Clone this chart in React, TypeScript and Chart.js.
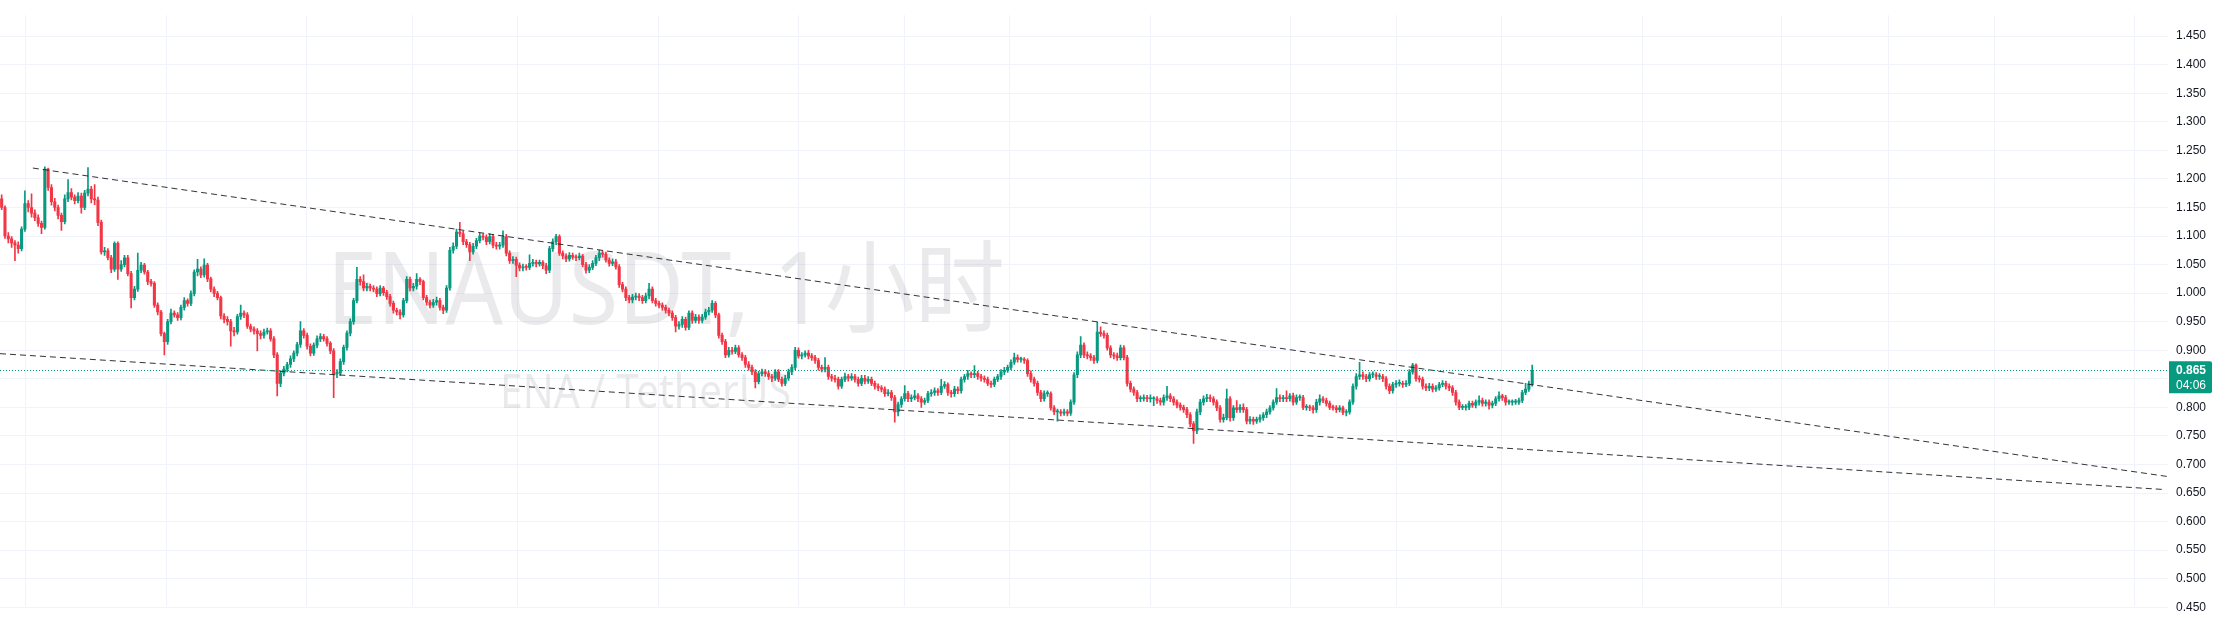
import React, { useEffect, useRef } from 'react';
import { Chart, registerables } from 'chart.js';

Chart.register(...registerables);

// ---- Data (ENAUSDT 1h candles) ----
const closes = [
  1.150, 1.100, 1.095, 1.088, 1.084, 1.078, 1.112, 1.157, 1.150, 1.140,
  1.132, 1.122, 1.115, 1.217, 1.185, 1.160, 1.150, 1.136, 1.125, 1.165,
  1.176, 1.168, 1.162, 1.170, 1.150, 1.175, 1.182, 1.165, 1.163, 1.124,
  1.072, 1.074, 1.062, 1.042, 1.087, 1.042, 1.050, 1.062, 1.034, 0.992,
  1.007, 1.040, 1.049, 1.037, 1.020, 1.017, 0.979, 0.967, 0.929, 0.915,
  0.950, 0.965, 0.962, 0.957, 0.975, 0.987, 0.982, 0.999, 1.037, 1.042,
  1.032, 1.049, 1.025, 1.007, 0.999, 0.992, 0.960, 0.954, 0.950, 0.934,
  0.932, 0.959, 0.965, 0.962, 0.942, 0.937, 0.934, 0.929, 0.926, 0.932,
  0.934, 0.920, 0.892, 0.842, 0.860, 0.867, 0.875, 0.885, 0.895, 0.910,
  0.934, 0.926, 0.907, 0.895, 0.909, 0.920, 0.924, 0.920, 0.912, 0.899,
  0.859, 0.860, 0.880, 0.905, 0.930, 0.950, 0.987, 1.024, 1.020, 1.009,
  1.012, 1.009, 1.007, 0.999, 1.009, 1.001, 0.994, 0.982, 0.970, 0.967,
  0.962, 0.987, 1.024, 1.009, 1.012, 1.024, 1.020, 0.992, 0.984, 0.979,
  0.984, 0.987, 0.975, 0.970, 1.009, 1.075, 1.082, 1.107, 1.104, 1.090,
  1.085, 1.072, 1.082, 1.092, 1.100, 1.098, 1.090, 1.099, 1.084, 1.082,
  1.084, 1.099, 1.070, 1.057, 1.059, 1.049, 1.044, 1.046, 1.045, 1.052,
  1.054, 1.051, 1.054, 1.048, 1.040, 1.078, 1.090, 1.099, 1.070, 1.065,
  1.060, 1.066, 1.063, 1.062, 1.065, 1.050, 1.040, 1.045, 1.052, 1.062,
  1.070, 1.068, 1.058, 1.052, 1.055, 1.046, 1.015, 1.007, 0.992, 0.988,
  0.993, 0.995, 0.992, 0.987, 0.995, 1.007, 0.987, 0.982, 0.979, 0.975,
  0.970, 0.965, 0.957, 0.942, 0.945, 0.954, 0.940, 0.965, 0.952, 0.958,
  0.952, 0.958, 0.967, 0.970, 0.982, 0.962, 0.926, 0.915, 0.892, 0.900,
  0.898, 0.904, 0.892, 0.887, 0.875, 0.870, 0.862, 0.845, 0.859, 0.862,
  0.859, 0.854, 0.851, 0.862, 0.849, 0.842, 0.851, 0.862, 0.870, 0.900,
  0.890, 0.892, 0.895, 0.890, 0.887, 0.882, 0.870, 0.867, 0.870, 0.854,
  0.851, 0.849, 0.837, 0.849, 0.854, 0.851, 0.854, 0.849, 0.842, 0.851,
  0.846, 0.849, 0.842, 0.837, 0.834, 0.832, 0.824, 0.826, 0.817, 0.792,
  0.805, 0.815, 0.824, 0.815, 0.817, 0.820, 0.815, 0.809, 0.812, 0.824,
  0.826, 0.829, 0.826, 0.837, 0.840, 0.826, 0.824, 0.832, 0.829, 0.849,
  0.854, 0.859, 0.857, 0.859, 0.854, 0.851, 0.849, 0.842, 0.840, 0.849,
  0.854, 0.862, 0.865, 0.870, 0.879, 0.887, 0.884, 0.884, 0.882, 0.859,
  0.849, 0.842, 0.826, 0.815, 0.824, 0.824, 0.799, 0.792, 0.792, 0.790,
  0.792, 0.790, 0.809, 0.857, 0.892, 0.909, 0.892, 0.890, 0.887, 0.882,
  0.932, 0.929, 0.926, 0.904, 0.892, 0.890, 0.887, 0.904, 0.887, 0.842,
  0.832, 0.826, 0.815, 0.815, 0.817, 0.815, 0.815, 0.815, 0.812, 0.809,
  0.817, 0.820, 0.815, 0.809, 0.804, 0.800, 0.796, 0.787, 0.771, 0.759,
  0.792, 0.809, 0.815, 0.817, 0.815, 0.809, 0.799, 0.779, 0.782, 0.815,
  0.782, 0.799, 0.796, 0.800, 0.796, 0.776, 0.779, 0.776, 0.779, 0.782,
  0.787, 0.792, 0.799, 0.809, 0.817, 0.815, 0.817, 0.815, 0.820, 0.809,
  0.817, 0.817, 0.800, 0.800, 0.799, 0.796, 0.809, 0.815, 0.812, 0.807,
  0.800, 0.799, 0.796, 0.799, 0.791, 0.792, 0.809, 0.837, 0.854, 0.857,
  0.854, 0.850, 0.857, 0.857, 0.854, 0.854, 0.850, 0.837, 0.829, 0.840,
  0.842, 0.842, 0.840, 0.842, 0.862, 0.874, 0.850, 0.849, 0.837, 0.834,
  0.837, 0.832, 0.834, 0.840, 0.842, 0.837, 0.834, 0.826, 0.809, 0.800,
  0.800, 0.800, 0.807, 0.804, 0.809, 0.812, 0.807, 0.809, 0.804, 0.807,
  0.815, 0.820, 0.817, 0.809, 0.809, 0.809, 0.809, 0.812, 0.826, 0.832,
  0.840, 0.865,
];

const opens = [
  1.165, 1.150, 1.100, 1.095, 1.088, 1.084, 1.078, 1.112, 1.157, 1.150,
  1.140, 1.132, 1.122, 1.115, 1.217, 1.185, 1.160, 1.150, 1.136, 1.125,
  1.165, 1.176, 1.168, 1.162, 1.170, 1.150, 1.175, 1.182, 1.165, 1.163,
  1.124, 1.072, 1.074, 1.062, 1.042, 1.087, 1.042, 1.050, 1.062, 1.034,
  0.992, 1.007, 1.040, 1.049, 1.037, 1.020, 1.017, 0.979, 0.967, 0.929,
  0.915, 0.950, 0.965, 0.962, 0.957, 0.975, 0.987, 0.982, 0.999, 1.037,
  1.042, 1.032, 1.049, 1.025, 1.007, 0.999, 0.992, 0.960, 0.954, 0.950,
  0.934, 0.932, 0.959, 0.965, 0.962, 0.942, 0.937, 0.934, 0.929, 0.926,
  0.932, 0.934, 0.920, 0.892, 0.842, 0.860, 0.867, 0.875, 0.885, 0.895,
  0.910, 0.934, 0.926, 0.907, 0.895, 0.909, 0.920, 0.924, 0.920, 0.912,
  0.899, 0.859, 0.860, 0.880, 0.905, 0.930, 0.950, 0.987, 1.024, 1.020,
  1.009, 1.012, 1.009, 1.007, 0.999, 1.009, 1.001, 0.994, 0.982, 0.970,
  0.967, 0.962, 0.987, 1.024, 1.009, 1.012, 1.024, 1.020, 0.992, 0.984,
  0.979, 0.984, 0.987, 0.975, 0.970, 1.009, 1.075, 1.082, 1.107, 1.104,
  1.090, 1.085, 1.072, 1.082, 1.092, 1.100, 1.098, 1.090, 1.099, 1.084,
  1.082, 1.084, 1.099, 1.070, 1.057, 1.059, 1.049, 1.044, 1.046, 1.045,
  1.052, 1.054, 1.051, 1.054, 1.048, 1.040, 1.078, 1.090, 1.099, 1.070,
  1.065, 1.060, 1.066, 1.063, 1.062, 1.065, 1.050, 1.040, 1.045, 1.052,
  1.062, 1.070, 1.068, 1.058, 1.052, 1.055, 1.046, 1.015, 1.007, 0.992,
  0.988, 0.993, 0.995, 0.992, 0.987, 0.995, 1.007, 0.987, 0.982, 0.979,
  0.975, 0.970, 0.965, 0.957, 0.942, 0.945, 0.954, 0.940, 0.965, 0.952,
  0.958, 0.952, 0.958, 0.967, 0.970, 0.982, 0.962, 0.926, 0.915, 0.892,
  0.900, 0.898, 0.904, 0.892, 0.887, 0.875, 0.870, 0.862, 0.845, 0.859,
  0.862, 0.859, 0.854, 0.851, 0.862, 0.849, 0.842, 0.851, 0.862, 0.870,
  0.900, 0.890, 0.892, 0.895, 0.890, 0.887, 0.882, 0.870, 0.867, 0.870,
  0.854, 0.851, 0.849, 0.837, 0.849, 0.854, 0.851, 0.854, 0.849, 0.842,
  0.851, 0.846, 0.849, 0.842, 0.837, 0.834, 0.832, 0.824, 0.826, 0.817,
  0.792, 0.805, 0.815, 0.824, 0.815, 0.817, 0.820, 0.815, 0.809, 0.812,
  0.824, 0.826, 0.829, 0.826, 0.837, 0.840, 0.826, 0.824, 0.832, 0.829,
  0.849, 0.854, 0.859, 0.857, 0.859, 0.854, 0.851, 0.849, 0.842, 0.840,
  0.849, 0.854, 0.862, 0.865, 0.870, 0.879, 0.887, 0.884, 0.884, 0.882,
  0.859, 0.849, 0.842, 0.826, 0.815, 0.824, 0.824, 0.799, 0.792, 0.792,
  0.790, 0.792, 0.790, 0.809, 0.857, 0.892, 0.909, 0.892, 0.890, 0.887,
  0.882, 0.932, 0.929, 0.926, 0.904, 0.892, 0.890, 0.887, 0.904, 0.887,
  0.842, 0.832, 0.826, 0.815, 0.815, 0.817, 0.815, 0.815, 0.815, 0.812,
  0.809, 0.817, 0.820, 0.815, 0.809, 0.804, 0.800, 0.796, 0.787, 0.771,
  0.759, 0.792, 0.809, 0.815, 0.817, 0.815, 0.809, 0.799, 0.779, 0.782,
  0.815, 0.782, 0.799, 0.796, 0.800, 0.796, 0.776, 0.779, 0.776, 0.779,
  0.782, 0.787, 0.792, 0.799, 0.809, 0.817, 0.815, 0.817, 0.815, 0.820,
  0.809, 0.817, 0.817, 0.800, 0.800, 0.799, 0.796, 0.809, 0.815, 0.812,
  0.807, 0.800, 0.799, 0.796, 0.799, 0.791, 0.792, 0.809, 0.837, 0.854,
  0.857, 0.854, 0.850, 0.857, 0.857, 0.854, 0.854, 0.850, 0.837, 0.829,
  0.840, 0.842, 0.842, 0.840, 0.842, 0.862, 0.874, 0.850, 0.849, 0.837,
  0.834, 0.837, 0.832, 0.834, 0.840, 0.842, 0.837, 0.834, 0.826, 0.809,
  0.800, 0.800, 0.800, 0.807, 0.804, 0.809, 0.812, 0.807, 0.809, 0.804,
  0.807, 0.815, 0.820, 0.817, 0.809, 0.809, 0.809, 0.809, 0.812, 0.826,
  0.832, 0.840,
];

const highs = [
  1.172, 1.153, 1.106, 1.099, 1.092, 1.090, 1.116, 1.179, 1.162, 1.174,
  1.146, 1.137, 1.126, 1.221, 1.219, 1.190, 1.166, 1.154, 1.140, 1.172,
  1.199, 1.183, 1.172, 1.176, 1.175, 1.180, 1.220, 1.187, 1.190, 1.168,
  1.128, 1.080, 1.078, 1.066, 1.090, 1.090, 1.057, 1.066, 1.066, 1.038,
  1.012, 1.070, 1.054, 1.052, 1.040, 1.024, 1.020, 0.983, 0.970, 0.932,
  0.954, 0.972, 0.969, 0.966, 0.979, 0.992, 0.990, 1.004, 1.041, 1.059,
  1.046, 1.060, 1.052, 1.028, 1.011, 1.003, 0.995, 0.964, 0.959, 0.954,
  0.940, 0.963, 0.979, 0.969, 0.966, 0.946, 0.941, 0.938, 0.934, 0.937,
  0.939, 0.938, 0.924, 0.896, 0.864, 0.872, 0.879, 0.890, 0.899, 0.914,
  0.950, 0.938, 0.930, 0.911, 0.913, 0.925, 0.929, 0.928, 0.924, 0.915,
  0.903, 0.866, 0.885, 0.909, 0.934, 0.955, 0.991, 1.045, 1.029, 1.032,
  1.017, 1.016, 1.013, 1.011, 1.013, 1.012, 1.005, 0.998, 0.986, 0.974,
  0.971, 0.991, 1.029, 1.028, 1.017, 1.034, 1.027, 1.023, 0.996, 0.988,
  0.989, 0.993, 0.991, 0.979, 1.013, 1.080, 1.088, 1.112, 1.124, 1.108,
  1.094, 1.089, 1.087, 1.096, 1.105, 1.104, 1.102, 1.104, 1.103, 1.089,
  1.089, 1.109, 1.103, 1.074, 1.064, 1.063, 1.053, 1.051, 1.050, 1.067,
  1.059, 1.058, 1.058, 1.057, 1.052, 1.082, 1.095, 1.103, 1.102, 1.074,
  1.069, 1.071, 1.070, 1.067, 1.070, 1.068, 1.054, 1.050, 1.057, 1.066,
  1.075, 1.074, 1.072, 1.062, 1.060, 1.059, 1.050, 1.019, 1.011, 0.996,
  0.998, 1.000, 0.999, 0.996, 1.000, 1.017, 1.011, 0.991, 0.986, 0.983,
  0.979, 0.974, 0.969, 0.961, 0.950, 0.959, 0.958, 0.969, 0.969, 0.963,
  0.962, 0.963, 0.972, 0.975, 0.987, 0.985, 0.965, 0.930, 0.919, 0.905,
  0.905, 0.909, 0.908, 0.896, 0.891, 0.880, 0.874, 0.866, 0.863, 0.867,
  0.866, 0.863, 0.858, 0.866, 0.866, 0.853, 0.856, 0.867, 0.875, 0.905,
  0.904, 0.896, 0.899, 0.900, 0.894, 0.891, 0.886, 0.874, 0.887, 0.874,
  0.858, 0.856, 0.853, 0.853, 0.860, 0.858, 0.859, 0.858, 0.853, 0.856,
  0.856, 0.854, 0.853, 0.846, 0.841, 0.838, 0.836, 0.831, 0.830, 0.821,
  0.809, 0.819, 0.838, 0.828, 0.822, 0.830, 0.824, 0.819, 0.816, 0.828,
  0.831, 0.834, 0.833, 0.849, 0.845, 0.843, 0.830, 0.837, 0.836, 0.853,
  0.858, 0.865, 0.862, 0.873, 0.863, 0.858, 0.855, 0.853, 0.846, 0.853,
  0.858, 0.866, 0.870, 0.874, 0.883, 0.895, 0.892, 0.888, 0.887, 0.885,
  0.864, 0.853, 0.846, 0.830, 0.829, 0.829, 0.827, 0.803, 0.797, 0.796,
  0.797, 0.796, 0.813, 0.861, 0.897, 0.924, 0.913, 0.897, 0.894, 0.891,
  0.949, 0.941, 0.934, 0.930, 0.908, 0.896, 0.895, 0.909, 0.908, 0.891,
  0.846, 0.836, 0.830, 0.820, 0.822, 0.821, 0.822, 0.819, 0.819, 0.816,
  0.822, 0.837, 0.824, 0.819, 0.813, 0.808, 0.804, 0.800, 0.791, 0.775,
  0.797, 0.814, 0.820, 0.823, 0.822, 0.819, 0.813, 0.803, 0.788, 0.832,
  0.819, 0.803, 0.812, 0.805, 0.806, 0.800, 0.784, 0.783, 0.783, 0.787,
  0.791, 0.797, 0.803, 0.813, 0.833, 0.822, 0.821, 0.829, 0.824, 0.825,
  0.822, 0.822, 0.821, 0.805, 0.804, 0.803, 0.814, 0.822, 0.819, 0.816,
  0.811, 0.804, 0.803, 0.803, 0.802, 0.796, 0.813, 0.841, 0.859, 0.879,
  0.862, 0.858, 0.861, 0.862, 0.861, 0.859, 0.858, 0.854, 0.841, 0.844,
  0.847, 0.848, 0.846, 0.847, 0.866, 0.877, 0.876, 0.855, 0.853, 0.841,
  0.842, 0.841, 0.838, 0.844, 0.847, 0.846, 0.841, 0.838, 0.830, 0.813,
  0.805, 0.805, 0.811, 0.811, 0.813, 0.820, 0.816, 0.813, 0.813, 0.811,
  0.819, 0.827, 0.823, 0.821, 0.813, 0.813, 0.814, 0.816, 0.830, 0.842,
  0.846, 0.874,
];

const lows = [
  1.146, 1.096, 1.088, 1.080, 1.057, 1.070, 1.074, 1.108, 1.142, 1.133,
  1.127, 1.117, 1.104, 1.112, 1.180, 1.154, 1.144, 1.130, 1.110, 1.121,
  1.160, 1.163, 1.156, 1.158, 1.140, 1.146, 1.170, 1.158, 1.155, 1.118,
  1.068, 1.066, 1.058, 1.036, 1.038, 1.024, 1.038, 1.046, 1.030, 0.974,
  0.988, 1.003, 1.036, 1.033, 1.015, 1.012, 0.975, 0.962, 0.925, 0.892,
  0.910, 0.946, 0.958, 0.952, 0.953, 0.970, 0.977, 0.978, 0.995, 1.030,
  1.027, 1.028, 1.020, 1.002, 0.994, 0.988, 0.955, 0.948, 0.944, 0.907,
  0.925, 0.928, 0.954, 0.957, 0.938, 0.932, 0.928, 0.899, 0.920, 0.921,
  0.928, 0.916, 0.887, 0.820, 0.836, 0.855, 0.862, 0.870, 0.880, 0.890,
  0.905, 0.921, 0.902, 0.890, 0.891, 0.904, 0.915, 0.916, 0.907, 0.894,
  0.817, 0.852, 0.856, 0.875, 0.900, 0.925, 0.945, 0.983, 1.014, 1.004,
  1.004, 1.004, 1.002, 0.994, 0.995, 0.996, 0.989, 0.977, 0.965, 0.962,
  0.955, 0.958, 0.983, 1.004, 1.004, 1.007, 1.015, 0.988, 0.979, 0.974,
  0.975, 0.979, 0.970, 0.964, 0.966, 1.005, 1.070, 1.078, 1.099, 1.085,
  1.080, 1.057, 1.068, 1.078, 1.088, 1.093, 1.085, 1.086, 1.079, 1.077,
  1.077, 1.080, 1.065, 1.052, 1.052, 1.029, 1.039, 1.039, 1.040, 1.041,
  1.047, 1.046, 1.047, 1.043, 1.034, 1.036, 1.073, 1.085, 1.066, 1.060,
  1.055, 1.056, 1.059, 1.057, 1.058, 1.046, 1.035, 1.036, 1.041, 1.048,
  1.057, 1.063, 1.054, 1.047, 1.048, 1.042, 1.010, 1.002, 0.987, 0.983,
  0.983, 0.988, 0.987, 0.982, 0.983, 0.990, 0.983, 0.977, 0.974, 0.970,
  0.965, 0.960, 0.952, 0.932, 0.937, 0.940, 0.935, 0.936, 0.947, 0.948,
  0.947, 0.948, 0.954, 0.962, 0.966, 0.957, 0.921, 0.910, 0.887, 0.888,
  0.893, 0.894, 0.888, 0.882, 0.870, 0.865, 0.857, 0.834, 0.841, 0.855,
  0.854, 0.849, 0.845, 0.847, 0.845, 0.837, 0.838, 0.847, 0.857, 0.866,
  0.886, 0.885, 0.888, 0.885, 0.882, 0.877, 0.865, 0.862, 0.862, 0.849,
  0.846, 0.844, 0.832, 0.833, 0.845, 0.846, 0.847, 0.844, 0.837, 0.838,
  0.841, 0.842, 0.838, 0.832, 0.829, 0.827, 0.819, 0.820, 0.812, 0.774,
  0.785, 0.800, 0.811, 0.810, 0.810, 0.813, 0.810, 0.800, 0.805, 0.808,
  0.819, 0.821, 0.821, 0.822, 0.833, 0.821, 0.818, 0.819, 0.824, 0.825,
  0.844, 0.849, 0.852, 0.852, 0.849, 0.846, 0.844, 0.838, 0.835, 0.836,
  0.845, 0.849, 0.857, 0.861, 0.866, 0.875, 0.879, 0.879, 0.877, 0.854,
  0.844, 0.837, 0.821, 0.810, 0.811, 0.819, 0.795, 0.787, 0.776, 0.785,
  0.786, 0.785, 0.786, 0.805, 0.852, 0.887, 0.887, 0.885, 0.882, 0.877,
  0.878, 0.924, 0.921, 0.900, 0.887, 0.885, 0.882, 0.883, 0.883, 0.837,
  0.827, 0.821, 0.810, 0.810, 0.811, 0.810, 0.809, 0.803, 0.807, 0.804,
  0.804, 0.812, 0.810, 0.804, 0.799, 0.795, 0.791, 0.782, 0.766, 0.737,
  0.754, 0.787, 0.804, 0.810, 0.810, 0.804, 0.794, 0.774, 0.774, 0.778,
  0.776, 0.777, 0.791, 0.791, 0.791, 0.771, 0.771, 0.770, 0.772, 0.774,
  0.777, 0.782, 0.788, 0.795, 0.805, 0.810, 0.810, 0.810, 0.811, 0.804,
  0.805, 0.812, 0.796, 0.795, 0.794, 0.790, 0.791, 0.804, 0.808, 0.802,
  0.796, 0.795, 0.791, 0.792, 0.787, 0.785, 0.788, 0.805, 0.832, 0.849,
  0.849, 0.845, 0.846, 0.852, 0.849, 0.849, 0.845, 0.832, 0.824, 0.825,
  0.835, 0.837, 0.835, 0.836, 0.838, 0.858, 0.846, 0.844, 0.832, 0.829,
  0.829, 0.827, 0.828, 0.830, 0.836, 0.832, 0.829, 0.821, 0.804, 0.796,
  0.796, 0.795, 0.796, 0.800, 0.799, 0.804, 0.802, 0.802, 0.797, 0.799,
  0.803, 0.811, 0.812, 0.804, 0.805, 0.804, 0.805, 0.805, 0.808, 0.822,
  0.828, 0.837,
];

// Price-axis tick values
const yTickValues = [
  1.45, 1.4, 1.35, 1.3, 1.25, 1.2, 1.15, 1.1, 1.05, 1.0, 0.95,
  0.9, 0.85, 0.8, 0.75, 0.7, 0.65, 0.6, 0.55, 0.5, 0.45,
];
// Label hidden behind the last-price tag
const hiddenTickLabel = 0.85;
// Time grid positions (in candle index units)
const timeGridTicks = [
  7.3, 49.5, 91.7, 123.6, 155.5, 197.7, 239.9, 271.8, 303.7,
  345.9, 388.1, 420.0, 451.9, 494.1, 536.2, 568.2, 600.1, 642.3,
];
// Drawn trend lines (candle index, price)
const upperTrendX = [9.4, 652.2];
const upperTrendY = [1.219, 0.679];
const lowerTrendX = [-0.5, 651.6];
const lowerTrendY = [0.894, 0.656];

const lastPrice = 0.865;
const countdown = '04:06';
const watermarkTitle = 'ENAUSDT, 1小时';
const watermarkSubtitle = 'ENA / TetherUS';

const UP = '#089981';
const DOWN = '#F23645';
const GRID = '#F0F3FA';

const watermarkPlugin = {
  id: 'watermark',
  beforeDatasetsDraw(chart: any) {
    const { ctx } = chart;
    ctx.save();
    ctx.fillStyle = 'rgba(149,152,161,0.2)';
    ctx.textAlign = 'left';
    ctx.textBaseline = 'alphabetic';
    ctx.save();
    ctx.translate(327, 324);
    ctx.scale(0.9, 1);
    ctx.font = "100px 'Noto Sans', 'Noto Sans CJK SC', sans-serif";
    ctx.fillText(watermarkTitle, 0, 0);
    ctx.restore();
    ctx.save();
    ctx.translate(500, 408);
    ctx.scale(0.85, 1);
    ctx.font = "48px 'Noto Sans', 'Noto Sans CJK SC', sans-serif";
    ctx.fillText(watermarkSubtitle, 0, 0);
    ctx.restore();
    ctx.restore();
  },
};

const priceTagPlugin = {
  id: 'priceTag',
  afterDatasetsDraw(chart: any) {
    const { ctx, chartArea } = chart;
    const yScale = chart.scales.y;
    const y = Math.round(yScale.getPixelForValue(lastPrice)) + 0.5;
    ctx.save();
    ctx.strokeStyle = UP;
    ctx.lineWidth = 1;
    ctx.setLineDash([1, 2]);
    ctx.beginPath();
    ctx.moveTo(chartArea.left, y);
    ctx.lineTo(chartArea.right, y);
    ctx.stroke();
    ctx.restore();
  },
  afterDraw(chart: any) {
    const { ctx, chartArea } = chart;
    const yScale = chart.scales.y;
    const y = yScale.getPixelForValue(lastPrice);
    const x0 = chartArea.right + 1;
    ctx.save();
    ctx.fillStyle = UP;
    const w = 43;
    const top = y - 9;
    const h = 32;
    const r = 2;
    ctx.beginPath();
    ctx.moveTo(x0, top);
    ctx.lineTo(x0 + w - r, top);
    ctx.quadraticCurveTo(x0 + w, top, x0 + w, top + r);
    ctx.lineTo(x0 + w, top + h - r);
    ctx.quadraticCurveTo(x0 + w, top + h, x0 + w - r, top + h);
    ctx.lineTo(x0, top + h);
    ctx.closePath();
    ctx.fill();
    ctx.fillStyle = '#FFFFFF';
    ctx.textAlign = 'left';
    ctx.textBaseline = 'middle';
    ctx.font = "bold 12px 'Liberation Sans', Arial, sans-serif";
    ctx.fillText(lastPrice.toFixed(3), chartArea.right + 8, y);
    ctx.font = "12px 'Liberation Sans', Arial, sans-serif";
    ctx.fillText(countdown, chartArea.right + 8, y + 15);
    ctx.restore();
  },
};

export default function App() {
  const canvasRef = useRef<HTMLCanvasElement | null>(null);

  useEffect(() => {
    document.body.style.margin = '0';
    document.body.style.background = '#FFFFFF';
    const canvas = canvasRef.current;
    if (!canvas) return;

    const index = closes.map((_, i) => i);
    const colors = index.map((i) => (closes[i] >= opens[i] ? UP : DOWN));

    const chart = new Chart(canvas, {
      type: 'bar',
      data: {
        datasets: [
          {
            type: 'line',
            data: upperTrendX.map((x, k) => ({ x, y: upperTrendY[k] })),
            borderColor: 'rgba(30,30,35,0.9)',
            borderWidth: 1,
            borderDash: [6, 4],
            pointRadius: 0,
            order: 0,
          } as any,
          {
            type: 'line',
            data: lowerTrendX.map((x, k) => ({ x, y: lowerTrendY[k] })),
            borderColor: 'rgba(30,30,35,0.9)',
            borderWidth: 1,
            borderDash: [6, 4],
            pointRadius: 0,
            order: 0,
          } as any,
          {
            type: 'bar',
            data: index.map((i) => ({ x: i, y: [opens[i], closes[i]] })),
            backgroundColor: colors,
            borderWidth: 0,
            barThickness: 2.4,
            minBarLength: 1,
            grouped: false,
            order: 1,
          } as any,
          {
            type: 'bar',
            data: index.map((i) => ({ x: i, y: [lows[i], highs[i]] })),
            backgroundColor: colors,
            borderWidth: 0,
            barThickness: 1,
            grouped: false,
            order: 2,
          } as any,
        ],
      },
      options: {
        responsive: false,
        animation: false,
        devicePixelRatio: 1,
        events: [],
        layout: { padding: 0, autoPadding: false } as any,
        plugins: {
          legend: { display: false },
          tooltip: { enabled: false },
        },
        scales: {
          x: {
            type: 'linear',
            min: -0.5,
            max: 652.5,
            offset: false,
            grid: { color: GRID, drawTicks: false, offset: false },
            border: { display: false },
            ticks: { display: false },
            afterBuildTicks: (scale: any) => {
              scale.ticks = timeGridTicks.map((value) => ({ value }));
            },
            afterFit: (scale: any) => {
              scale.height = 0;
            },
          } as any,
          y: {
            type: 'linear',
            position: 'right',
            min: 0.4525,
            max: 1.48664,
            beginAtZero: false,
            grid: { color: GRID, drawTicks: false },
            border: { display: false },
            ticks: {
              padding: 8,
              color: '#131722',
              autoSkip: false,
              font: { family: "'Liberation Sans', Arial, sans-serif", size: 12 },
              callback: (v: any) =>
                Math.abs(Number(v) - hiddenTickLabel) < 1e-6 ? '' : Number(v).toFixed(3),
            },
            afterBuildTicks: (scale: any) => {
              scale.ticks = yTickValues.map((value) => ({ value }));
            },
            afterFit: (scale: any) => {
              scale.width = 50;
            },
          } as any,
        },
      } as any,
      plugins: [watermarkPlugin, priceTagPlugin],
    });

    return () => chart.destroy();
  }, []);

  return (
    <canvas
      ref={canvasRef}
      width={2218}
      height={621}
      style={{ display: 'block', width: '2218px', height: '621px' }}
    />
  );
}
